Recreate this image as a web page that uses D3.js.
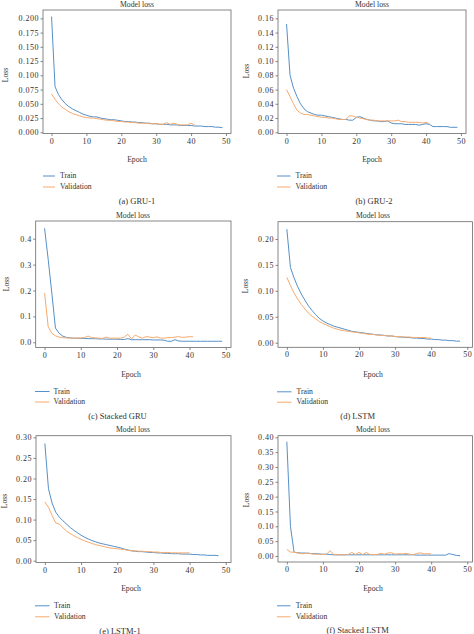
<!DOCTYPE html>
<html><head><meta charset="utf-8">
<script src="https://cdn.jsdelivr.net/npm/d3@7"></script>
<style>body{margin:0;background:#fff}svg{display:block}</style>
</head><body>
<svg id="c" width="474" height="634"></svg>
<script>
// ---------- data ----------
const xTicks = [0, 10, 20, 30, 40, 50];

const gru1Train = [0.203,0.080,0.066,0.057,0.050,0.045,0.041,0.038,0.035,0.032,0.030,0.028,0.027,0.027,0.025,0.024,0.023,0.022,0.022,0.021,0.020,0.019,0.019,0.018,0.018,0.017,0.017,0.016,0.016,0.015,0.015,0.014,0.014,0.014,0.013,0.013,0.013,0.012,0.012,0.012,0.012,0.011,0.011,0.011,0.010,0.010,0.010,0.009,0.009,0.008];
const gru1Val = [0.067,0.058,0.050,0.044,0.040,0.036,0.033,0.031,0.029,0.027,0.026,0.025,0.025,0.024,0.023,0.022,0.021,0.021,0.020,0.019,0.019,0.018,0.018,0.017,0.017,0.016,0.016,0.016,0.015,0.015,0.015,0.014,0.014,0.017,0.014,0.016,0.014,0.013,0.013,0.013,0.016,0.013];
const gru1YTicks = [0,0.025,0.05,0.075,0.1,0.125,0.15,0.175,0.2];

const gru2Train = [0.152,0.080,0.062,0.050,0.040,0.033,0.029,0.027,0.025,0.024,0.024,0.023,0.022,0.021,0.020,0.019,0.018,0.018,0.017,0.017,0.021,0.022,0.020,0.018,0.017,0.016,0.016,0.015,0.015,0.016,0.013,0.012,0.012,0.012,0.011,0.011,0.011,0.011,0.010,0.011,0.012,0.011,0.008,0.008,0.008,0.008,0.008,0.007,0.007,0.007];
const gru2Val = [0.060,0.050,0.040,0.031,0.027,0.025,0.025,0.024,0.023,0.022,0.021,0.021,0.020,0.020,0.019,0.018,0.018,0.018,0.023,0.023,0.021,0.020,0.019,0.018,0.017,0.017,0.016,0.016,0.016,0.016,0.016,0.016,0.017,0.015,0.015,0.014,0.014,0.014,0.014,0.013,0.014,0.012];
const gru2YTicks = [0,0.02,0.04,0.06,0.08,0.1,0.12,0.14,0.16];

const sgruTrain = [0.440,0.320,0.190,0.055,0.035,0.024,0.019,0.017,0.016,0.016,0.015,0.015,0.014,0.014,0.014,0.013,0.013,0.012,0.012,0.012,0.012,0.011,0.011,0.014,0.010,0.010,0.010,0.010,0.010,0.010,0.009,0.009,0.009,0.008,0.004,0.004,0.010,0.005,0.004,0.004,0.004,0.004,0.004,0.004,0.004,0.004,0.004,0.004,0.004,0.004];
const sgruVal = [0.190,0.060,0.035,0.025,0.020,0.018,0.017,0.016,0.016,0.016,0.017,0.018,0.024,0.018,0.017,0.016,0.015,0.020,0.016,0.016,0.016,0.016,0.020,0.031,0.013,0.028,0.021,0.016,0.022,0.020,0.018,0.021,0.016,0.016,0.018,0.018,0.020,0.022,0.019,0.020,0.022,0.021];
const sgruYTicks = [0,0.1,0.2,0.3,0.4];

const lstmTrain = [0.219,0.145,0.125,0.108,0.094,0.082,0.071,0.062,0.054,0.047,0.042,0.038,0.035,0.032,0.030,0.028,0.026,0.024,0.022,0.021,0.020,0.019,0.018,0.017,0.016,0.015,0.015,0.014,0.013,0.013,0.012,0.011,0.011,0.010,0.010,0.009,0.009,0.008,0.008,0.007,0.007,0.006,0.006,0.005,0.005,0.004,0.004,0.003,0.003];
const lstmVal = [0.126,0.110,0.096,0.084,0.074,0.065,0.057,0.051,0.046,0.041,0.037,0.034,0.031,0.028,0.026,0.024,0.023,0.022,0.021,0.020,0.019,0.018,0.017,0.016,0.016,0.015,0.014,0.014,0.013,0.013,0.012,0.012,0.011,0.011,0.011,0.010,0.010,0.010,0.010,0.009,0.009];
const lstmYTicks = [0,0.05,0.1,0.15,0.2];

const lstm1Train = [0.285,0.175,0.140,0.118,0.106,0.097,0.089,0.081,0.074,0.068,0.062,0.057,0.053,0.049,0.046,0.043,0.041,0.039,0.037,0.035,0.033,0.031,0.028,0.026,0.024,0.023,0.022,0.022,0.021,0.020,0.020,0.019,0.019,0.018,0.018,0.017,0.017,0.017,0.016,0.016,0.016,0.015,0.015,0.014,0.014,0.013,0.013,0.013,0.012];
const lstm1Val = [0.143,0.130,0.110,0.092,0.089,0.080,0.072,0.066,0.061,0.056,0.052,0.048,0.045,0.042,0.039,0.037,0.035,0.033,0.031,0.030,0.029,0.028,0.027,0.025,0.024,0.024,0.023,0.023,0.022,0.022,0.021,0.021,0.020,0.020,0.020,0.019,0.019,0.019,0.019,0.019,0.019];
const lstm1YTicks = [0,0.05,0.1,0.15,0.2,0.25,0.3];

const slstmTrain = [0.385,0.100,0.013,0.011,0.010,0.010,0.009,0.008,0.008,0.007,0.006,0.006,0.005,0.004,0.004,0.004,0.004,0.004,0.004,0.004,0.004,0.004,0.004,0.004,0.004,0.004,0.004,0.004,0.004,0.004,0.004,0.004,0.004,0.004,0.004,0.004,0.003,0.003,0.003,0.003,0.003,0.003,0.003,0.003,0.003,0.008,0.005,0.002,0.001];
const slstmVal = [0.022,0.013,0.013,0.010,0.008,0.008,0.010,0.007,0.006,0.006,0.005,0.006,0.018,0.005,0.004,0.004,0.004,0.005,0.012,0.005,0.012,0.005,0.012,0.005,0.005,0.005,0.009,0.006,0.010,0.011,0.006,0.008,0.007,0.009,0.006,0.005,0.008,0.011,0.007,0.008,0.007];
const slstmYTicks = [0,0.05,0.1,0.15,0.2,0.25,0.3,0.35,0.4];

const captions = ["(a) GRU-1","(b) GRU-2","(c) Stacked GRU","(d) LSTM","(e) LSTM-1","(f) Stacked LSTM"];
const seriesNames = ["Train","Validation"];

// ---------- layout ----------
const panels = [
  {train:gru1Train, val:gru1Val, yTicks:gru1YTicks, fmt:".3f", cap:captions[0],
   f:{l:43,r:231,t:10,b:133.5}, xLim:[-2.45,51.45], yLim:[-0.0021,0.2146],
   title:[137,4.5], xl:[137,159.5], yl:[5.5,75], leg:{x0:43,x1:55,tx:60,y1:175.5,y2:186.5}, capPos:[137,201]},
  {train:gru2Train, val:gru2Val, yTicks:gru2YTicks, fmt:".2f", cap:captions[1],
   f:{l:278,r:466,t:10,b:133.5}, xLim:[-2.45,51.45], yLim:[-0.0017,0.1717],
   title:[372,4.5], xl:[372,159.5], yl:[246,71], leg:{x0:277,x1:290.5,tx:295.5,y1:175.5,y2:186.5}, capPos:[374,201]},
  {train:sgruTrain, val:sgruVal, yTicks:sgruYTicks, fmt:".1f", cap:captions[2],
   f:{l:35.7,r:231,t:221,b:347.5}, xLim:[-2.45,51.45], yLim:[-0.0201,0.4683],
   title:[133,215], xl:[131,374], yl:[6.5,284], leg:{x0:35,x1:49.5,tx:53.5,y1:391,y2:401.5}, capPos:[117.5,415.5]},
  {train:lstmTrain, val:lstmVal, yTicks:lstmYTicks, fmt:".2f", cap:captions[3],
   f:{l:278,r:472.5,t:221.7,b:347.3}, xLim:[-2.45,51.45], yLim:[-0.00885,0.2333],
   title:[373,215], xl:[373,374], yl:[245.5,286], leg:{x0:277,x1:291.5,tx:296.5,y1:391.3,y2:401.7}, capPos:[357.7,415.5]},
  {train:lstm1Train, val:lstm1Val, yTicks:lstm1YTicks, fmt:".2f", cap:captions[4],
   f:{l:36,r:231,t:435.7,b:562.5}, xLim:[-2.45,51.45], yLim:[-0.0044,0.3041],
   title:[133,429.5], xl:[131,588.7], yl:[4.5,501], leg:{x0:35,x1:49.5,tx:54,y1:605.3,y2:616.3}, capPos:[120,630.5]},
  {train:slstmTrain, val:slstmVal, yTicks:slstmYTicks, fmt:".2f", cap:captions[5],
   f:{l:278,r:472.5,t:435.7,b:562}, xLim:[-2.45,51.45], yLim:[-0.0202,0.4054],
   title:[373,429.5], xl:[373,588.7], yl:[246,500], leg:{x0:277,x1:290.5,tx:295.7,y1:605.3,y2:616.3}, capPos:[357.7,630]}
];

const BLUE = "#5590c8", ORANGE = "#f7aa6c", AXIS = "#6a6a6a", TXT = "#333";
const FONT = "'Liberation Serif','DejaVu Serif',serif";
const svg = d3.select("#c");

panels.forEach(p => {
  const g = svg.append("g");
  const x = d3.scaleLinear().domain(p.xLim).range([p.f.l, p.f.r]);
  const y = d3.scaleLinear().domain(p.yLim).range([p.f.b, p.f.t]);

  // axes
  const ya = g.append("g").attr("transform", `translate(${p.f.l},0)`)
    .call(d3.axisLeft(y).tickValues(p.yTicks).tickFormat(d3.format(p.fmt)).tickSize(2.5).tickPadding(1.5));
  const xa = g.append("g").attr("transform", `translate(0,${p.f.b})`)
    .call(d3.axisBottom(x).tickValues(xTicks).tickFormat(d3.format("d")).tickSize(2.5).tickPadding(2));
  [ya, xa].forEach(a => {
    a.select(".domain").remove();
    a.selectAll(".tick line").attr("stroke", AXIS).attr("stroke-width", 0.8);
    a.selectAll(".tick text").attr("fill", TXT).style("font-family", FONT)
      .style("font-size", "8px").style("letter-spacing", "0.5px");
  });

  // lines
  const line = d3.line().x((d, i) => x(i)).y(d => y(d));
  g.append("path").datum(p.train).attr("d", line).attr("fill", "none")
    .attr("stroke", BLUE).attr("stroke-width", 1);
  g.append("path").datum(p.val).attr("d", line).attr("fill", "none")
    .attr("stroke", ORANGE).attr("stroke-width", 1);

  // frame
  g.append("rect").attr("x", p.f.l).attr("y", p.f.t)
    .attr("width", p.f.r - p.f.l).attr("height", p.f.b - p.f.t)
    .attr("fill", "none").attr("stroke", AXIS).attr("stroke-width", 0.8);

  const txt = (xx, yy, s, size, anchor) => g.append("text").attr("x", xx).attr("y", yy)
    .attr("text-anchor", anchor || "middle").attr("dominant-baseline", "central")
    .attr("fill", TXT).style("font-family", FONT).style("font-size", size + "px").text(s);

  txt(p.title[0], p.title[1], "Model loss", 7.7);
  txt(p.xl[0], p.xl[1], "Epoch", 7.7);
  txt(0, 0, "Loss", 7.7).attr("transform", `translate(${p.yl[0]},${p.yl[1]}) rotate(-90)`);

  // legend
  [[p.leg.y1, BLUE, seriesNames[0]], [p.leg.y2, ORANGE, seriesNames[1]]].forEach(([ly, c, name]) => {
    g.append("line").attr("x1", p.leg.x0).attr("x2", p.leg.x1)
      .attr("y1", ly + 0.5).attr("y2", ly + 0.5).attr("stroke", c).attr("stroke-width", 1);
    txt(p.leg.tx, ly, name, 7.7, "start");
  });

  txt(p.capPos[0], p.capPos[1], p.cap, 8.5);
});
</script>
</body></html>
